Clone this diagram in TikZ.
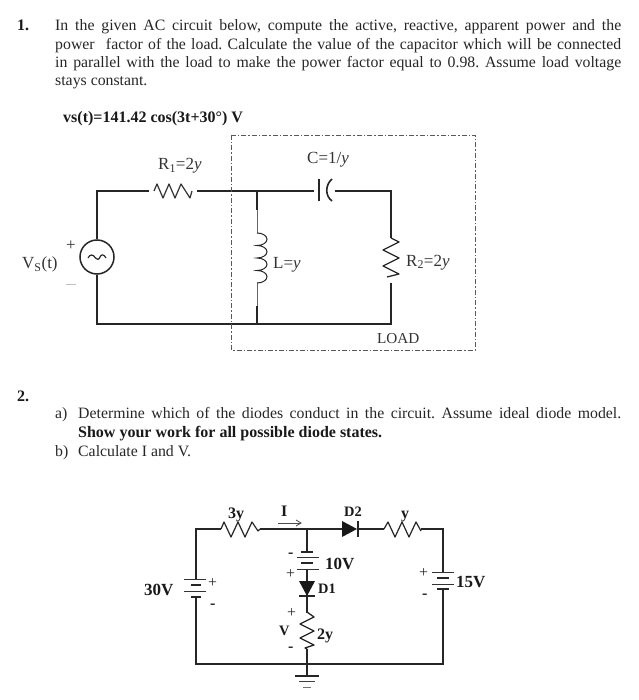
\documentclass[tikz,border=0pt]{standalone}
\usepackage{fontspec}
\setmainfont{Liberation Serif}
\usetikzlibrary{calc}
\frenchspacing
\tikzset{
  x=1pt,y=-1pt,
  wire/.style={line width=1.5pt,line join=miter,color=black!85},
  thinw/.style={line width=1.2pt,color=black!80},
  plate/.style={line width=1pt,color=black!80},
  thick plate/.style={line width=1.7pt,color=black!85},
  txt/.style={inner sep=0pt,anchor=base west,font=\fontsize{15.8}{17}\selectfont,text=black!85},
  bld/.style={inner sep=0pt,anchor=base west,font=\fontsize{16}{17}\selectfont\bfseries,text=black!90},
  sbld/.style={inner sep=0pt,anchor=base west,font=\fontsize{14.4}{17}\selectfont\bfseries,text=black!90},
  lab/.style={inner sep=0pt,anchor=base west,font=\fontsize{17}{18}\selectfont,text=black!80},
  load/.style={line width=.8pt,color=black!65,dash pattern=on 5pt off 2pt on 1.5pt off 2pt},
}
\begin{document}
\begin{tikzpicture}
\useasboundingbox (0,0) rectangle (638,700);
% question text
\node[bld] (n1) at (17,31) {1.};
\node[txt] (l1) at (55,31) {\makebox[566pt][s]{In the given AC circuit below, compute the active, reactive, apparent power and the}};
\node[txt] (l2) at (55,50) {\makebox[566pt][s]{power\hspace{6pt} factor of the load. Calculate the value of the capacitor which will be connected}};
\node[txt] (l3) at (55,68) {\makebox[566pt][s]{in parallel with the load to make the power factor equal to 0.98. Assume load voltage}};
\node[txt] (l4) at (55,86) {stays constant.};
\node[bld] (vs) at (63,123) {vs(t)=141.42 cos(3t+30°) V};
% circuit 1
\coordinate (tl) at (97,191);
\coordinate (bl) at (97,324);
\coordinate (tm) at (257,191);
\coordinate (bm) at (257,324);
\coordinate (tr) at (391,191);
\coordinate (br) at (391,324);
\node[draw,circle,line width=1.5pt,minimum size=34pt,inner sep=0pt,color=black!85] (src) at (97,257) {};
\draw[line width=1.2pt,color=black!85] (88,258) .. controls (90,254) and (93,254) .. (95.5,258) .. controls (97,260) and (99,260) .. (100,257) .. controls (101,254) and (104,254) .. (106,258);
\draw[wire] (src.north) -- (tl) -- (149,191);
\draw[wire] (src.south) -- (bl) -- (br) -- (391,283);
\draw[thinw,line join=round] (154,191) -- (157,184) -- (163,198) -- (169,184) -- (175,198) -- (181,184) -- (190,198) -- (192,191);
\draw[wire] (197,191) -- (tm) -- (314,191);
% inductor
\draw[wire] (tm) -- (257,210);
\draw[line width=1pt,color=black!60] (257,210) -- (257,233);
\draw[line width=1pt,color=black!60] (257,283) -- (257,306);
\draw[wire] (257,306) -- (bm);
\draw[line width=1pt,color=black!85] (257,233) arc[start angle=-90,end angle=90,x radius=10,y radius=6.25]
  arc[start angle=-90,end angle=90,x radius=10,y radius=6.25] arc[start angle=-90,end angle=90,x radius=10,y radius=6.25] arc[start angle=-90,end angle=90,x radius=10,y radius=6.25];
% capacitor
\draw[line width=1.6pt,color=black!85] (319,179) -- (319,201);
\draw[line width=1.6pt,color=black!85] (332,179) .. controls (325,185) and (325,196) .. (332,201);
\draw[wire] (335,191) -- (tr) -- (391,238);
% R2
\draw[line width=1.3pt,color=black!85,line join=round] (391,238) -- (399,242) -- (383,250) -- (399,258) -- (383,266) -- (399,274) -- (387,277);
% load box
\draw[load] (231,135) rectangle (475,350);
% labels
\node[lab] (r1) at (158,170) {R\textsubscript{1}=2\textit{y}};
\node[lab] (c1) at (307,164) {C=1/\textit{y}};
\node[lab] (ll) at (273,268) {L=\textit{y}};
\node[lab] (r2) at (406,266) {R\textsubscript{2}=2\textit{y}};
\node[lab,font=\fontsize{15.2}{16}\selectfont] (ld) at (377,343) {LOAD};
\node[lab] (vst) at (22,269) {V\textsubscript{S}(t)};
\node[lab,font=\fontsize{17}{18}\selectfont] (pl) at (66,251) {+};
\draw[line width=.6pt,color=black!25] (66,284) -- (76,284);
% question 2
\node[bld] (n2) at (17,401) {2.};
\node[txt] (a1) at (55,418) {a)};
\node[txt] (a1b) at (78,418) {\makebox[543pt][s]{Determine which of the diodes conduct in the circuit. Assume ideal diode model.}};
\node[bld] (a2) at (78,437) {Show your work for all possible diode states.};
\node[txt] (b0) at (55,456) {b)};
\node[txt] (b1) at (78,456) {Calculate I and V.};
% circuit 2
\coordinate (a) at (196,529);
\coordinate (b) at (196,664);
\coordinate (c) at (307,529);
\coordinate (d) at (307,664);
\coordinate (e) at (443,529);
\coordinate (f) at (443,664);
\draw[wire] (196,579) -- (a) -- (221,529);
\draw[wire] (196,597) -- (b) -- (f) -- (443,589);
\draw[wire] (443,572) -- (e) -- (421,529);
\draw[wire] (260,529) -- (342,529);
\draw[wire] (307,529) -- (307,552);
% R 3y
\draw[thinw,color=black!85,line join=round] (221,529) -- (224,522) -- (231,537) -- (238,522) -- (245,537) -- (252,522) -- (258,531) -- (260,529);
% 30V battery
\draw[plate] (184,579) -- (206,579);
\draw[thick plate] (191,585) -- (201,585);
\draw[plate] (184,591) -- (206,591);
\draw[wire] (191,597) -- (201,597);
% 10V
\draw[wire] (301,552) -- (313,552);
\draw[plate] (297,557) -- (319,557);
\draw[thick plate] (301,563) -- (313,563);
\draw[plate] (297,569) -- (319,569);
\draw[wire] (307,569) -- (307,613);
% D1
\fill[black!90] (299,581) -- (315,581) -- (307,596) -- cycle;
\draw[wire] (299,596) -- (315,596);
% R 2y
\draw[line width=1.3pt,color=black!85,line join=round] (307,612) -- (314,617) -- (300,624) -- (314,631) -- (300,638) -- (314,645) -- (305,648) -- (307,649);
\draw[wire] (307,649) -- (307,676);
% ground
\draw[thick plate] (295,676) -- (319,676);
\draw[line width=1pt,color=black!75] (299,681) -- (315,681);
\draw[line width=1pt,color=black!55] (303,687) -- (311,687);
% D2
\fill[black!90] (342,521) -- (342,537) -- (357,529) -- cycle;
\draw[wire] (358,521) -- (358,537);
\draw[wire] (358,529) -- (384,529);
% R y
\draw[thinw,color=black!85,line join=round] (384,529) -- (388,522) -- (395,537) -- (402,522) -- (409,537) -- (416,522) -- (421,531);
% 15V
\draw[plate] (432,572) -- (454,572);
\draw[thick plate] (437,578) -- (449,578);
\draw[plate] (432,584) -- (454,584);
\draw[wire] (437,589) -- (449,589);
% I arrow
\draw[line width=.8pt,color=black!70] (278,523) -- (301,523);
\draw[line width=.8pt,color=black!70] (296,520) -- (301,523) -- (296,526);
% labels
\node[bld] (r3) at (228,518) {3y};
\node[bld] (ii) at (281,516) {I};
\node[sbld] (d2) at (344,516) {D2};
\node[bld] (ry) at (401,518) {y};
\node[bld,font=\fontsize{17}{18}\selectfont\bfseries] (v30) at (144,595) {30V};
\node[bld,font=\fontsize{17}{18}\selectfont\bfseries] (v10) at (325,569) {10V};
\node[sbld] (dd1) at (318,593) {D1};
\node[bld,font=\fontsize{17}{18}\selectfont\bfseries] (v15) at (456,587) {15V};
\node[sbld] (vv) at (279,635) {V};
\node[bld] (y2) at (317,639) {2y};
\node[txt] (p1) at (208,587) {+};
\node[bld] (m1) at (210,608) {-};
\node[bld] (m2) at (288,557) {-};
\node[txt] (p2) at (286,578) {+};
\node[txt] (p3) at (287,617) {+};
\node[bld] (m3) at (288,651) {-};
\node[txt] (p4) at (419,577) {+};
\node[bld] (m4) at (422,598) {-};
\end{tikzpicture}
\end{document}
